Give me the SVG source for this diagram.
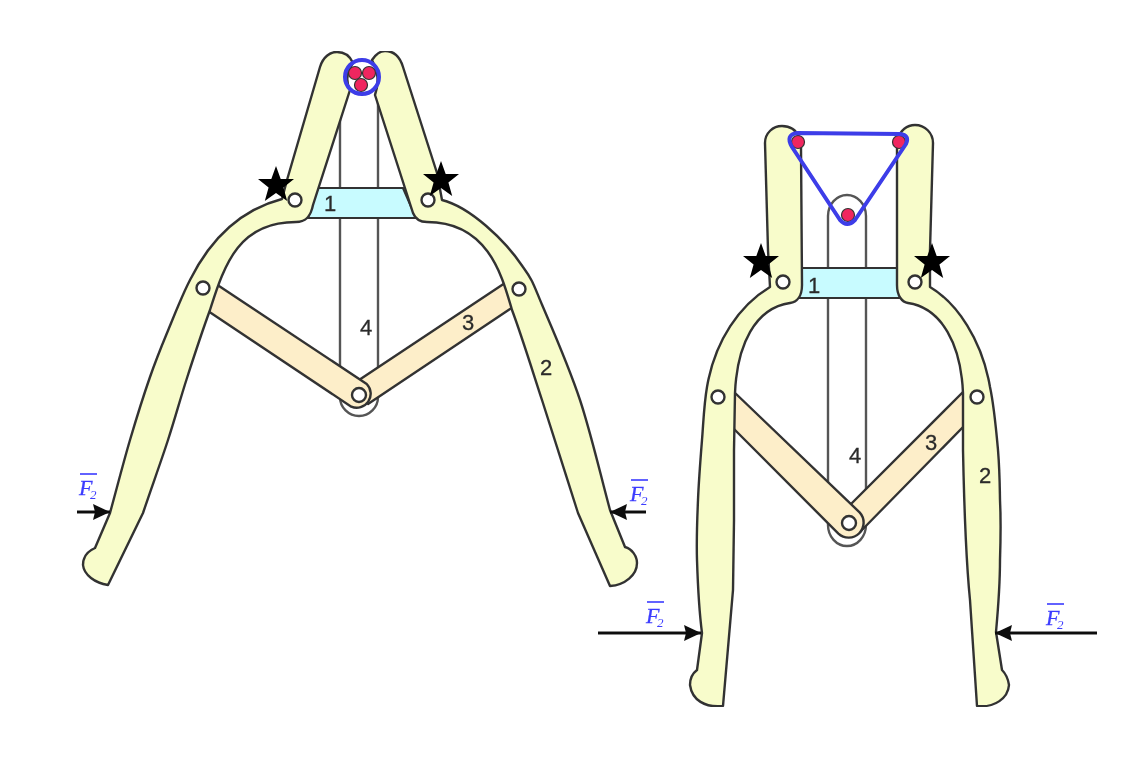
<svg xmlns="http://www.w3.org/2000/svg" width="1143" height="766" viewBox="0 0 1143 766">
<style>
.arm{fill:#f8fccb;stroke:#333;stroke-width:2.4;stroke-linejoin:round}
.link{fill:#fdeec9;stroke:#333;stroke-width:2.4;stroke-linejoin:round}
.plate{fill:#c8fbff;stroke:#333;stroke-width:2.2}
.bar{fill:none;stroke:#555;stroke-width:2.4}
.hole{fill:#fff;stroke:#333;stroke-width:2.4}
.ball{fill:#f0285f;stroke:#333;stroke-width:1.2}
.wire{fill:none;stroke:#3c3ce8;stroke-width:4;stroke-linejoin:round}
.num{font:22px "Liberation Sans",Arial,sans-serif;fill:#2a2a2a;stroke:#2a2a2a;stroke-width:.3;text-anchor:middle}
.f{font:italic 22px "Liberation Serif","Times New Roman",serif;fill:#3c3cff;stroke:#3c3cff;stroke-width:.3}
.fs{font:italic 13px "Liberation Serif","Times New Roman",serif;fill:#3c3cff}
.ov{stroke:#3c3cff;stroke-width:1.6}
.arrow{stroke:#111;stroke-width:3.2;fill:none;marker-end:url(#head)}
</style>
<defs>
<filter id="soft" x="0" y="0" width="100%" height="100%"><feGaussianBlur stdDeviation="0.45"/></filter>
<marker id="head" markerUnits="userSpaceOnUse" markerWidth="18" markerHeight="16" refX="17" refY="8" orient="auto"><path d="M0 0L17 8L0 16L2 8Z" fill="#111"/></marker>
<polygon id="star" points="0,-19 4.700,-5.900 18,-5.900 7.400,2.600 11.200,16 0,8 -11.200,16 -7.400,2.600 -18,-5.900 -4.700,-5.900" fill="#000"/>
<g id="fsym"><line class="ov" x1="1" y1="0" x2="18" y2="0"/><text class="f" x="0" y="21">F</text><text class="fs" x="11" y="25">2</text></g>
</defs>
<g filter="url(#soft)">
<g id="left-tool">
<g id="left-bar4">
<line class="bar" x1="340" y1="105" x2="340" y2="397"/>
<line class="bar" x1="378" y1="95" x2="378" y2="397"/>
<path class="bar" d="M340 397A19 19 0 0 0 378 397"/>
</g>
<g id="left-plate1"><path class="plate" d="M318 188H403L416 218H308Z"/><text class="num" x="330" y="211">1</text></g>
<g id="left-link3">
<path class="link" d="M508 281L350 386L368 404L516 305Z"/>
<path class="link" d="M213 282L366.700 384A14 14 0 0 1 351.300 406.700L205 309Z"/>
</g>
<g id="left-arm-l">
<path class="arm" d="M320 67L287 180L282 199C240 210 210 240 190 280C181.700 296 173.700 316.800 167 333C160.300 349.200 156.200 359.200 150 377C143.800 394.800 136.700 417.300 130 440C123.300 462.700 116.700 488.700 110 513L95 548C88 551 83 556 83 565C84 575 95 583 108 585L143 513C151 489 160.700 462.500 168 440C175.300 417.500 180 399.700 187 378C194 356.300 203.300 328.300 210 310C225 262 240 222 296 222C307 222 311 215 313 205L350 90C345 80 348 70 353 63C350 56 345 52 337 52C330 52 323 57 320 67Z"/>
</g>
<g id="left-arm-r">
<path class="arm" d="M403 67L437 173L442 200C470 207 505 240 523 267C533.500 281.500 533.500 284.800 543 307C552.500 329.200 568.800 366.200 580 400C591.200 433.800 600 473 610 510L625 547C632 549 637 556 637 563C637 575 625 585 610 586L578 513C566 475.300 553 433.800 542 400C531 366.200 520.700 333 512 310C503 280 490 222 427 222C420 222 415 218 413 213L375 95C380 80 377 70 372 60C376 54 380 51 385 51C394 51 400 57 403 67Z"/>
<text class="num" x="546" y="375">2</text>
</g>
<g id="left-pivots">
<circle class="hole" cx="295" cy="200" r="6.500"/>
<circle class="hole" cx="428" cy="200" r="6.500"/>
<circle class="hole" cx="203" cy="288" r="6.500"/>
<circle class="hole" cx="519" cy="289" r="6.500"/>
<circle class="hole" cx="359" cy="395" r="7"/>
</g>
<g id="left-wire">
<circle class="ball" cx="355" cy="73" r="6.500"/>
<circle class="ball" cx="369" cy="73" r="6.500"/>
<circle class="ball" cx="361" cy="85" r="6.500"/>
<circle class="wire" cx="362" cy="77" r="17"/>
</g>
<text class="num" x="366" y="335">4</text>
<text class="num" x="468" y="330">3</text>
<use href="#star" x="276" y="185"/>
<use href="#star" x="441" y="180"/>
<use href="#fsym" x="79" y="474"/>
<use href="#fsym" x="630" y="480"/>
</g>

<g id="right-tool">
<g id="right-bar4">
<line class="bar" x1="828" y1="216" x2="828" y2="525"/>
<line class="bar" x1="866" y1="216" x2="866" y2="525"/>
<path class="bar" d="M828 216A19 21 0 0 1 866 216"/>
<path class="bar" d="M828 525A19 21 0 0 0 866 525"/>
</g>
<g id="right-plate1"><path class="plate" d="M798 268H900V298H798Z"/><text class="num" x="814" y="293">1</text></g>
<g id="right-link3">
<path class="link" d="M966 389L838 517L858 534L966 424Z"/>
<path class="link" d="M733 391L859.600 512.400A15 15 0 0 1 838.400 533.600L733 428Z"/>
</g>
<g id="right-arm-l">
<path class="arm" d="M765 143C765 133 773 126 782 126C790 126 796 130 799 137L801 147L802 285C802 296 797 302 790 303C755 308 737 345 735 393L734 450L734 520L733 590L723 706C705 708 692 700 690 685C690 678 693 673 697 670L702 633C699 610 697.700 582 697 560C696.300 537.800 697.200 520 698 500C698.800 480 700.500 458.800 702 440C703.500 421.200 704 404.200 707 387C715 340 740 305 770 287L768 250Z"/>
</g>
<g id="right-arm-r">
<path class="arm" d="M933 143C933 133 925 125 915 125C906 125 900 132 897 140L897 285C897 296 902 302 908 303C942 308 961 345 963 393L963 450C964 500 966 560 970 600L977 706C995 708 1008 698 1009 685C1008 678 1005 673 1002 670L996 632C998 610 1000 585 1000 560C1000.700 538 1001 520 1000 500C999.700 483 999.700 471 998 450C996.300 431.200 994.200 406.500 990 387C982 340 957 303 930 287L930 250Z"/>
<text class="num" x="985" y="483">2</text>
</g>
<g id="right-pivots">
<circle class="hole" cx="783" cy="282" r="6.500"/>
<circle class="hole" cx="915" cy="282" r="6.500"/>
<circle class="hole" cx="718" cy="397" r="6.500"/>
<circle class="hole" cx="977" cy="397" r="6.500"/>
<circle class="hole" cx="849" cy="523" r="7"/>
</g>
<g id="right-wire">
<circle class="ball" cx="798" cy="142" r="6.500"/>
<circle class="ball" cx="899" cy="142" r="6.500"/>
<circle class="ball" cx="848" cy="215" r="6.500"/>
<path class="wire" d="M797 133L900 134Q910 135 906 144L855 220Q847 228 840 220L792 147Q785 135 797 133Z"/>
</g>
<text class="num" x="855" y="463">4</text>
<text class="num" x="931" y="450">3</text>
<use href="#star" x="761" y="262"/>
<use href="#star" x="932" y="262"/>
<use href="#fsym" x="646" y="602"/>
<use href="#fsym" x="1046" y="604"/>
</g>

<g id="connectors">
<line class="arrow" x1="77" y1="512" x2="110" y2="512"/>
<line class="arrow" x1="646" y1="512" x2="610" y2="512"/>
<line class="arrow" x1="598" y1="633" x2="701" y2="633"/>
<line class="arrow" x1="1097" y1="633" x2="995" y2="633"/>
</g>
</g>
</svg>
